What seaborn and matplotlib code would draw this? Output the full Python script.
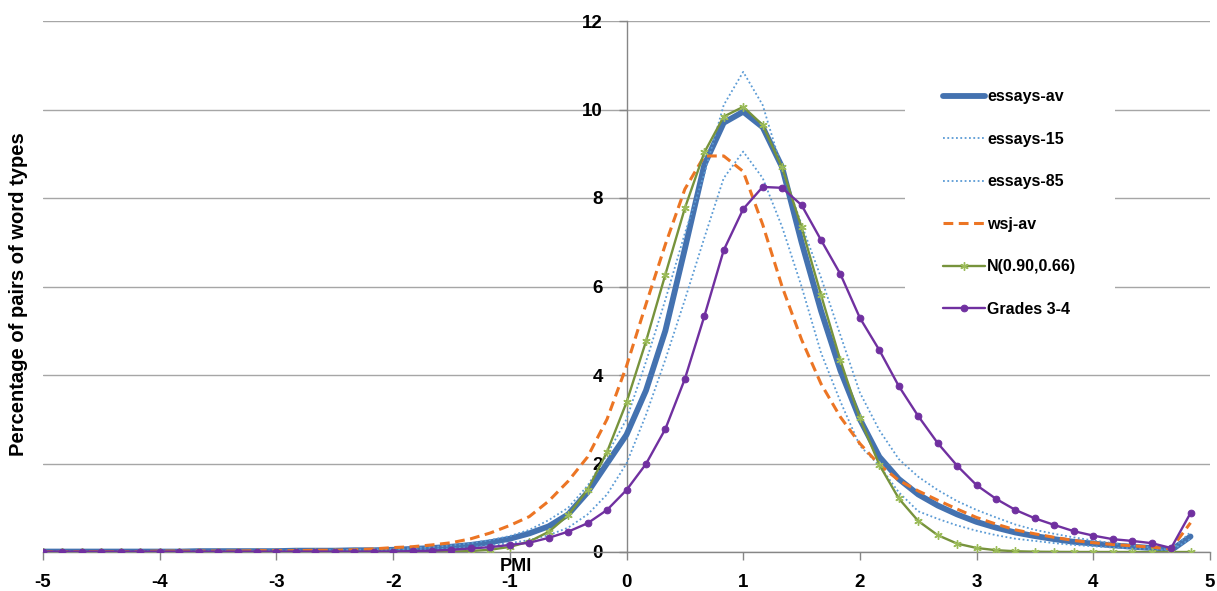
import matplotlib
matplotlib.use("Agg")
import matplotlib.pyplot as plt
import seaborn as sns

# ---- data -------------------------------------------------------------
pmi = [-5.0, -4.833, -4.667, -4.5, -4.333, -4.167, -4.0, -3.833, -3.667, -3.5, -3.333, -3.167,
       -3.0, -2.833, -2.667, -2.5, -2.333, -2.167, -2.0, -1.833, -1.667, -1.5, -1.333, -1.167,
       -1.0, -0.833, -0.667, -0.5, -0.333, -0.167, 0.0, 0.167, 0.333, 0.5, 0.667, 0.833,
       1.0, 1.167, 1.333, 1.5, 1.667, 1.833, 2.0, 2.167, 2.333, 2.5, 2.667, 2.833,
       3.0, 3.167, 3.333, 3.5, 3.667, 3.833, 4.0, 4.167, 4.333, 4.5, 4.667, 4.833]

essays_av = [0.01, 0.01, 0.01, 0.01, 0.01, 0.01, 0.01, 0.01, 0.02, 0.02, 0.02, 0.02,
             0.02, 0.03, 0.03, 0.03, 0.04, 0.04, 0.05, 0.07, 0.09, 0.12, 0.16, 0.22,
             0.30, 0.42, 0.58, 0.85, 1.35, 2.0, 2.65, 3.65, 5.0, 6.85, 8.75, 9.7,
             9.95, 9.6, 8.7, 7.0, 5.45, 4.1, 3.0, 2.15, 1.65, 1.3, 1.05, 0.85,
             0.68, 0.55, 0.44, 0.36, 0.29, 0.23, 0.19, 0.15, 0.12, 0.09, 0.04, 0.35]

essays_15 = [0.01, 0.01, 0.01, 0.01, 0.01, 0.01, 0.02, 0.02, 0.02, 0.02, 0.02, 0.03,
             0.03, 0.03, 0.04, 0.04, 0.05, 0.06, 0.07, 0.09, 0.11, 0.15, 0.2, 0.27,
             0.36, 0.5, 0.72, 1.0, 1.5, 2.2, 3.0, 4.3, 5.7, 7.2, 8.55, 10.1,
             10.85, 10.1, 8.65, 7.4, 6.2, 4.9, 3.6, 2.75, 2.1, 1.7, 1.4, 1.15,
             0.95, 0.78, 0.62, 0.5, 0.41, 0.33, 0.26, 0.2, 0.15, 0.1, 0.04, 0.45]

essays_85 = [0.01, 0.01, 0.01, 0.01, 0.01, 0.01, 0.01, 0.01, 0.01, 0.01, 0.02, 0.02,
             0.02, 0.02, 0.02, 0.03, 0.03, 0.03, 0.04, 0.05, 0.06, 0.08, 0.11, 0.15,
             0.2, 0.27, 0.38, 0.55, 0.85, 1.3, 2.0, 3.1, 4.35, 5.7, 7.1, 8.45,
             9.05, 8.45, 7.35, 6.0, 4.5, 3.4, 2.4, 1.95, 1.35, 0.92, 0.75, 0.6,
             0.48, 0.38, 0.3, 0.25, 0.2, 0.16, 0.13, 0.1, 0.08, 0.06, 0.03, 0.3]

wsj_av = [0.01, 0.01, 0.01, 0.01, 0.01, 0.01, 0.02, 0.02, 0.02, 0.02, 0.02, 0.03,
          0.03, 0.03, 0.04, 0.04, 0.05, 0.07, 0.1, 0.12, 0.16, 0.21, 0.3, 0.43,
          0.6, 0.8, 1.15, 1.6, 2.15, 3.0, 4.2, 5.6, 6.95, 8.2, 8.95, 8.95,
          8.6, 7.4, 6.0, 4.8, 3.8, 3.05, 2.45, 1.97, 1.62, 1.38, 1.17, 0.97,
          0.78, 0.63, 0.5, 0.41, 0.33, 0.26, 0.21, 0.17, 0.14, 0.11, 0.07, 0.66]

normal_fit = [0.0, 0.0, 0.0, 0.0, 0.0, 0.0, 0.0, 0.0, 0.0, 0.0, 0.0, 0.0,
              0.0, 0.0, 0.0, 0.0, 0.0, 0.0001, 0.0004, 0.001, 0.003, 0.009, 0.022, 0.052,
              0.115, 0.236, 0.456, 0.829, 1.41, 2.26, 3.38, 4.76, 6.27, 7.77, 9.03, 9.84,
              10.06, 9.65, 8.69, 7.34, 5.81, 4.33, 3.02, 1.97, 1.21, 0.70, 0.38, 0.19,
              0.091, 0.041, 0.017, 0.007, 0.003, 0.001, 0.0004, 0.0001, 0.0, 0.0, 0.0, 0.0]

grades_3_4 = [0.01, 0.01, 0.01, 0.01, 0.01, 0.01, 0.01, 0.01, 0.01, 0.01, 0.01, 0.01,
              0.01, 0.01, 0.01, 0.01, 0.01, 0.01, 0.01, 0.02, 0.03, 0.05, 0.08, 0.11,
              0.16, 0.21, 0.32, 0.46, 0.65, 0.95, 1.40, 1.99, 2.78, 3.91, 5.33, 6.82,
              7.75, 8.25, 8.23, 7.84, 7.05, 6.28, 5.29, 4.56, 3.75, 3.07, 2.46, 1.95,
              1.51, 1.20, 0.95, 0.76, 0.61, 0.47, 0.37, 0.29, 0.25, 0.20, 0.09, 0.88]

x_ticks = [-5, -4, -3, -2, -1, 0, 1, 2, 3, 4, 5]
y_ticks = [0, 2, 4, 6, 8, 10, 12]

# ---- style -------------------------------------------------------------
sns.set_style("white")
plt.rcParams['font.family'] = ['Liberation Sans', 'DejaVu Sans']
plt.rcParams['font.weight'] = 'bold'
plt.rcParams['axes.labelweight'] = 'bold'
plt.rcParams['text.color'] = 'black'
plt.rcParams['axes.labelcolor'] = 'black'

W, H = 1217, 591
fig = plt.figure(figsize=(W / 100, H / 100), dpi=100)
L, R, T, B = 43, 1210, 21, 552
ax = fig.add_axes([L / W, (H - B) / H, (R - L) / W, (B - T) / H])

blue = '#4472B0'
light = '#5B9BD5'
orange = '#EC7524'
green = '#77933C'
green_m = '#9BBB59'
purple = '#7030A0'

sns.lineplot(x=pmi, y=essays_av, ax=ax, color=blue, lw=4.2, label='essays-av',
             solid_capstyle='round', solid_joinstyle='round', zorder=3)
sns.lineplot(x=pmi, y=essays_15, ax=ax, color=light, lw=1.3, ls=(0, (1, 1.4)),
             label='essays-15', zorder=3)
sns.lineplot(x=pmi, y=essays_85, ax=ax, color=light, lw=1.3, ls=(0, (1, 1.4)),
             label='essays-85', zorder=3)
sns.lineplot(x=pmi, y=wsj_av, ax=ax, color=orange, lw=2.2, ls=(0, (3.2, 1.8)),
             label='wsj-av', zorder=3)
sns.lineplot(x=pmi, y=normal_fit, ax=ax, color=green, lw=1.7, marker=(6, 2, 0),
             markersize=6, markeredgecolor=green_m, markerfacecolor=green_m,
             markeredgewidth=1.0, label='N(0.90,0.66)', zorder=4)
sns.lineplot(x=pmi, y=grades_3_4, ax=ax, color=purple, lw=1.7, marker='o',
             markersize=4.8, markeredgecolor=purple, markerfacecolor=purple,
             label='Grades 3-4', zorder=5)

ax.set_xlim(-5, 5)
ax.set_ylim(0, 12)
ax.set_xticks(x_ticks)
ax.set_yticks(y_ticks)
ax.set_xticklabels([str(v) for v in x_ticks])
ax.set_yticklabels([str(v) for v in y_ticks])

ax.set_axisbelow(True)
ax.yaxis.grid(True, color='#a6a6a6', lw=1.0)
ax.xaxis.grid(False)

for s in ['top', 'right']:
    ax.spines[s].set_visible(False)
ax.spines['left'].set_position(('data', 0))
ax.spines['left'].set_color('#868686')
ax.spines['bottom'].set_color('#868686')
ax.spines['left'].set_linewidth(1.0)
ax.spines['bottom'].set_linewidth(1.0)

ax.tick_params(axis='y', direction='out', length=6, width=1, color='#868686',
               labelcolor='black', pad=11, labelsize=13.5, left=True)
ax.tick_params(axis='x', direction='out', length=6, width=1, color='#868686',
               labelcolor='black', pad=10, labelsize=13.5, bottom=True)
for lab in ax.get_xticklabels() + ax.get_yticklabels():
    lab.set_fontweight('bold')

ax.set_xlabel('PMI', fontsize=13, fontweight='bold', color='black')
ax.xaxis.set_label_coords(0.405, -0.012)
ax.set_ylabel('Percentage of pairs of word types', fontsize=14.5, fontweight='bold',
              color='black')
ax.yaxis.set_label_coords(-0.0125, 0.485)

leg = ax.legend(loc='upper left', bbox_to_anchor=(905 / W, 1 - 51 / H),
                bbox_transform=fig.transFigure, borderaxespad=0,
                frameon=True, facecolor='white', edgecolor='none', framealpha=1,
                fontsize=11.5, handlelength=2.6, handletextpad=0.15,
                labelspacing=1.72, borderpad=2.4)
for t in leg.get_texts():
    t.set_fontweight('bold')
    t.set_color('black')

fig.savefig('out.png', dpi=100, facecolor='white')
